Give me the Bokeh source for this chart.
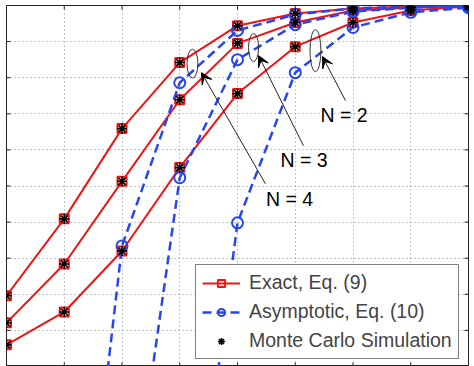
from bokeh.plotting import figure
from bokeh.models import (Range1d, FixedTicker, Legend, LegendItem,
                          Label, Arrow, VeeHead)
from bokeh.embed import file_html
from bokeh.resources import INLINE

# ---- data ----
snr_db = [0, 5, 10, 15, 20, 25, 30, 35, 40]
exact_n2 = [0.060, 0.151, 0.320, 0.551, 0.756, 0.886, 0.953, 0.986, 0.997]
exact_n3 = [0.121, 0.284, 0.513, 0.739, 0.895, 0.953, 0.986, 0.994, 0.999]
exact_n4 = [0.196, 0.409, 0.659, 0.842, 0.944, 0.978, 0.992, 0.997, 0.999]
sim_n2 = [0.060, 0.151, 0.320, 0.551, 0.756, 0.886, 0.953, 0.986, 0.997]
sim_n3 = [0.121, 0.284, 0.513, 0.739, 0.895, 0.953, 0.986, 0.994, 0.999]
sim_n4 = [0.196, 0.409, 0.659, 0.842, 0.944, 0.978, 0.992, 0.997, 0.999]
asym_snr_n2 = [15, 20, 25, 30, 35, 40]
asym_n2 = [-0.82, 0.398, 0.814, 0.939, 0.981, 0.994]
asym_snr_n3 = [10, 15, 20, 25, 30, 35, 40]
asym_n3 = [-0.60, 0.523, 0.850, 0.947, 0.983, 0.994, 0.999]
asym_snr_n4 = [5, 10, 15, 20, 25, 30, 35, 40]
asym_n4 = [-1.05, 0.334, 0.786, 0.931, 0.975, 0.992, 0.997, 0.999]

x_ticks = [0, 5, 10, 15, 20, 25, 30, 35, 40]
y_ticks = [0.0, 0.1, 0.2, 0.3, 0.4, 0.5, 0.6, 0.7, 0.8, 0.9, 1.0]

legend_labels = ["Exact, Eq. (9)", "Asymptotic, Eq. (10)", "Monte Carlo Simulation"]
n_labels = ["N = 2", "N = 3", "N = 4"]
# annotation geometry (data units)
label_x = [29.22, 25.76, 24.50]
label_y = [0.698, 0.573, 0.465]
ell_x = [26.75, 21.39, 16.10]
ell_y = [0.875, 0.8835, 0.839]
ell_w = [0.95, 0.87, 0.95]
ell_h = [0.1165, 0.078, 0.080]
arrow_tail_x = [29.35, 25.71, 22.42]
arrow_tail_y = [0.7365, 0.6117, 0.5062]
arrow_tip_x = [27.36, 21.82, 16.88]
arrow_tip_y = [0.8585, 0.8613, 0.8141]

RED = "#f01414"
BLUE = "#2846f0"
FONT = "Liberation Sans"
W, H = 474, 366
BL, BR, BT, BB = 6, 6, 5, 0
FW, FH = W - BL - BR, H - BT - BB
X0, X1, Y0, Y1 = 0, 40, 0, 1

p = figure(width=W, height=H, output_backend="svg", toolbar_location=None,
           x_range=Range1d(X0, X1), y_range=Range1d(Y0, Y1),
           min_border_left=BL, min_border_right=BR, min_border_top=BT, min_border_bottom=BB)
p.background_fill_color = "white"
p.border_fill_color = "white"
p.outline_line_color = "#222222"
p.outline_line_width = 1
p.xaxis.visible = False
p.yaxis.visible = False

p.xgrid.ticker = FixedTicker(ticks=x_ticks)
p.ygrid.ticker = FixedTicker(ticks=y_ticks)
for g in (p.xgrid, p.ygrid):
    g.grid_line_color = "#8a8a8a"
    g.grid_line_dash = "1 3"
    g.grid_line_width = 1

# inside tick marks on all four sides (MATLAB box style), 4 px long
tx = 4 * (X1 - X0) / FW
ty = 4 * (Y1 - Y0) / FH
tick_x0 = list(x_ticks) * 2 + [X0] * len(y_ticks) + [X1] * len(y_ticks)
tick_x1 = list(x_ticks) * 2 + [X0 + tx] * len(y_ticks) + [X1 - tx] * len(y_ticks)
tick_y0 = [Y0] * len(x_ticks) + [Y1] * len(x_ticks) + y_ticks + y_ticks
tick_y1 = [Y0 + ty] * len(x_ticks) + [Y1 - ty] * len(x_ticks) + y_ticks + y_ticks
p.segment(tick_x0, tick_y0, tick_x1, tick_y1, line_color="#222222", line_width=1)

exact_sets = [exact_n2, exact_n3, exact_n4]
sim_sets = [sim_n2, sim_n3, sim_n4]
asym_sets = [(asym_snr_n2, asym_n2), (asym_snr_n3, asym_n3), (asym_snr_n4, asym_n4)]

ex_line = []; ex_mark = []
for ys in exact_sets:
    ex_line.append(p.line(snr_db, ys, line_color=RED, line_width=2))
    ex_mark.append(p.scatter(snr_db, ys, marker="square", size=9, fill_color=None,
                             line_color=RED, line_width=2))
as_line = []; as_mark = []
for xs, ys in asym_sets:
    as_line.append(p.line(xs, ys, line_color=BLUE, line_width=2.5, line_dash="9 5"))
    as_mark.append(p.scatter(xs, ys, marker="circle", size=11, fill_color=None,
                             line_color=BLUE, line_width=2))
sim_mark = []
for ys in sim_sets:
    sim_mark.append(p.scatter(snr_db, ys, marker="asterisk", size=10,
                              line_color="black", line_width=1.6))

# ellipses, arrows, labels
p.ellipse(x=ell_x, y=ell_y, width=ell_w, height=ell_h, fill_color=None,
          line_color="#333333", line_width=1)
for i in range(3):
    p.add_layout(Arrow(end=VeeHead(size=11, fill_color="black", line_color="black", line_width=1),
                       x_start=arrow_tail_x[i], y_start=arrow_tail_y[i],
                       x_end=arrow_tip_x[i], y_end=arrow_tip_y[i],
                       line_color="#222222", line_width=1))
    p.add_layout(Label(x=label_x[i], y=label_y[i], text=n_labels[i], text_align="center",
                       text_baseline="alphabetic", text_font=FONT, text_font_size="19.5px",
                       text_color="black"))

legend = Legend(items=[
    LegendItem(label=legend_labels[0], renderers=[ex_line[0], ex_mark[0]]),
    LegendItem(label=legend_labels[1], renderers=[as_line[0], as_mark[0]]),
    LegendItem(label=legend_labels[2], renderers=[sim_mark[0]]),
], location=(189, 7))
legend.label_text_font = FONT
legend.label_text_font_size = "19.5px"
legend.glyph_width = 38
legend.glyph_height = 18
legend.label_height = 18
legend.label_standoff = 9
legend.spacing = 6
legend.padding = 6
legend.margin = 0
legend.border_line_color = "black"
legend.border_line_width = 1
legend.background_fill_color = "white"
legend.background_fill_alpha = 1
p.add_layout(legend)

open("out.html", "w").write(file_html(p, INLINE))
